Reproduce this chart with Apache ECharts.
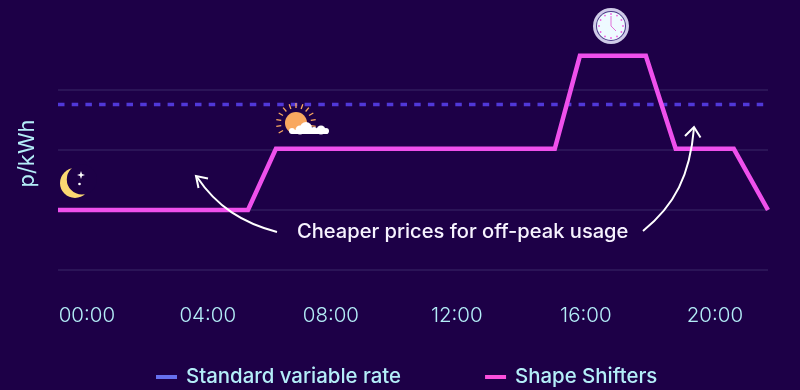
<!DOCTYPE html>
<html><head><meta charset="utf-8">
<style>html,body{margin:0;padding:0;background:#1d0047}#c{width:800px;height:390px}</style>
<script src="https://cdn.jsdelivr.net/npm/echarts@6/dist/echarts.min.js"></script>
</head><body><div id="c"></div>
<script>
const hours = [-0.92, 5.13, 6.02, 14.9, 15.7, 17.8, 18.75, 20.6, 21.69];
const shapeShifters = [20, 20, 30.2, 30.2, 45.7, 45.7, 30.2, 30.2, 20];
const standardHours = [-0.92, 21.62];
const standardRate = [37.6, 37.6];
const tickHours = [0, 3.85, 7.77, 11.78, 15.89, 20];
const tickLabels = ['00:00', '04:00', '08:00', '12:00', '16:00', '20:00'];
const seriesNames = ['Standard variable rate', 'Shape Shifters'];
const FONT = 'Inter';
const TXT = '#b4eef8';
const BG = '#1d0047';
const rayAngles = [-170,-150,-130,-110,-90,-70,-50,-30,-10,10,170,150];
const clockTicks = [0,30,60,90,120,150,180,210,240,270,300,330];

const sun = {x:296,y:123};
const clock = {x:611,y:26};
const white = '#ffffff';
const graphics = [];
// moon
graphics.push({type:'circle',z:20,shape:{cx:75,cy:183,r:15},style:{fill:'#fbd872'}});
graphics.push({type:'circle',z:20,shape:{cx:81.85,cy:179.4,r:15.06},style:{fill:BG}});
graphics.push({type:'polygon',z:21,shape:{points:[[81,171],[82,174],[85,175],[82,176],[81,179],[80,176],[77,175],[80,174]]},style:{fill:white}});
graphics.push({type:'circle',z:21,shape:{cx:79.5,cy:184,r:1.3},style:{fill:white}});
// sun
rayAngles.forEach(a=>{const r=a*Math.PI/180;graphics.push({type:'line',z:20,shape:{x1:sun.x+Math.cos(r)*15,y1:sun.y+Math.sin(r)*15,x2:sun.x+Math.cos(r)*20,y2:sun.y+Math.sin(r)*20},style:{stroke:'#f9a860',lineWidth:1.3}})});
graphics.push({type:'circle',z:20,shape:{cx:sun.x,cy:sun.y,r:11},style:{fill:'#f9a860'}});
[[292,131,3],[300,130,4.5],[306,128,6],[314,130.5,3.5],[321,130,4.5],[326,131,3]].forEach(c=>graphics.push({type:'circle',z:21,shape:{cx:c[0],cy:c[1],r:c[2]},style:{fill:white}}));
graphics.push({type:'rect',z:21,shape:{x:291,y:130,width:37,height:4,r:1.5},style:{fill:white}});
// clock
graphics.push({type:'circle',z:20,shape:{cx:clock.x,cy:clock.y,r:18},style:{fill:'#cfcbe8'}});
graphics.push({type:'circle',z:20,shape:{cx:clock.x,cy:clock.y,r:15},style:{fill:'#4a3a88'}});
graphics.push({type:'circle',z:20,shape:{cx:clock.x,cy:clock.y,r:14},style:{fill:'#eefaff'}});
clockTicks.forEach(a=>{const r=a*Math.PI/180;graphics.push({type:'circle',z:21,shape:{cx:clock.x+Math.sin(r)*12,cy:clock.y-Math.cos(r)*12,r:0.9},style:{fill:'#f060e0'}})});
graphics.push({type:'polyline',z:22,shape:{points:[[clock.x,clock.y-10],[clock.x,clock.y],[clock.x+5,clock.y+5]]},style:{stroke:'#e070d8',fill:null,lineWidth:1}});
// arrows
graphics.push({type:'bezierCurve',z:25,shape:{x1:277,y1:232,cpx1:243,cpy1:223,cpx2:217,cpy2:207,x2:197,y2:177},style:{stroke:white,fill:null,lineWidth:2}});
graphics.push({type:'polyline',z:25,shape:{points:[[208,178.5],[196,176],[198.5,188]]},style:{stroke:white,fill:null,lineWidth:2}});
graphics.push({type:'bezierCurve',z:25,shape:{x1:643,y1:231,cpx1:675,cpy1:205,cpx2:690,cpy2:175,x2:694,y2:128},style:{stroke:white,fill:null,lineWidth:2}});
graphics.push({type:'polyline',z:25,shape:{points:[[685,136],[694,127],[700.5,137.5]]},style:{stroke:white,fill:null,lineWidth:2}});
// annotation
graphics.push({type:'text',z:25,x:297,y:232,style:{text:'Cheaper prices for off-peak usage',font:'500 20.1px '+FONT,fill:'#f7f3ff',textVerticalAlign:'middle'}});

const chart = echarts.init(document.getElementById('c'),null,{renderer:'canvas'});
chart.setOption({
  backgroundColor:BG,
  animation:false,
  grid:{left:58,right:32,top:30,bottom:120},
  legend:{left:151,top:362,itemWidth:21,itemHeight:4,itemGap:84,icon:'rect',
    data:[{name:seriesNames[0],itemStyle:{color:'#6670ee'}},{name:seriesNames[1],itemStyle:{color:'#fb4fdc'}}],
    textStyle:{color:TXT,fontFamily:FONT,fontSize:20.4,fontWeight:500,padding:[0,0,3,4]}},
  xAxis:{type:'value',min:hours[0],max:hours[hours.length-1],
    axisLine:{show:false},axisTick:{show:false},splitLine:{show:false},
    axisLabel:{customValues:tickHours,margin:35,showMinLabel:true,showMaxLabel:true,color:TXT,fontFamily:FONT,fontSize:20.5,fontWeight:300,
      formatter:v=>tickLabels[tickHours.indexOf(v)]}},
  yAxis:{type:'value',min:10,max:50,interval:10,
    name:'p/kWh',nameLocation:'middle',nameGap:20,
    nameTextStyle:{color:TXT,fontFamily:FONT,fontSize:22,fontWeight:400,padding:[0,7,0,0]},
    axisLine:{show:false},axisTick:{show:false},axisLabel:{show:false},
    splitLine:{showMaxLine:false,lineStyle:{color:'#301b5c',width:1.5}}},
  series:[
    {name:seriesNames[0],type:'line',symbol:'none',z:3,data:standardHours.map((h,i)=>[h,standardRate[i]]),
      lineStyle:{color:'#5038d8',width:3.5,type:[6.5,7.2],cap:'butt'},itemStyle:{color:'#6670ee'}},
    {name:seriesNames[1],type:'line',symbol:'none',z:4,data:hours.map((h,i)=>[h,shapeShifters[i]]),
      lineStyle:{color:'#ef50ec',width:4.5,cap:'butt',join:'miter'},itemStyle:{color:'#fb4fdc'}}
  ],
  graphic:graphics
});
</script></body></html>
